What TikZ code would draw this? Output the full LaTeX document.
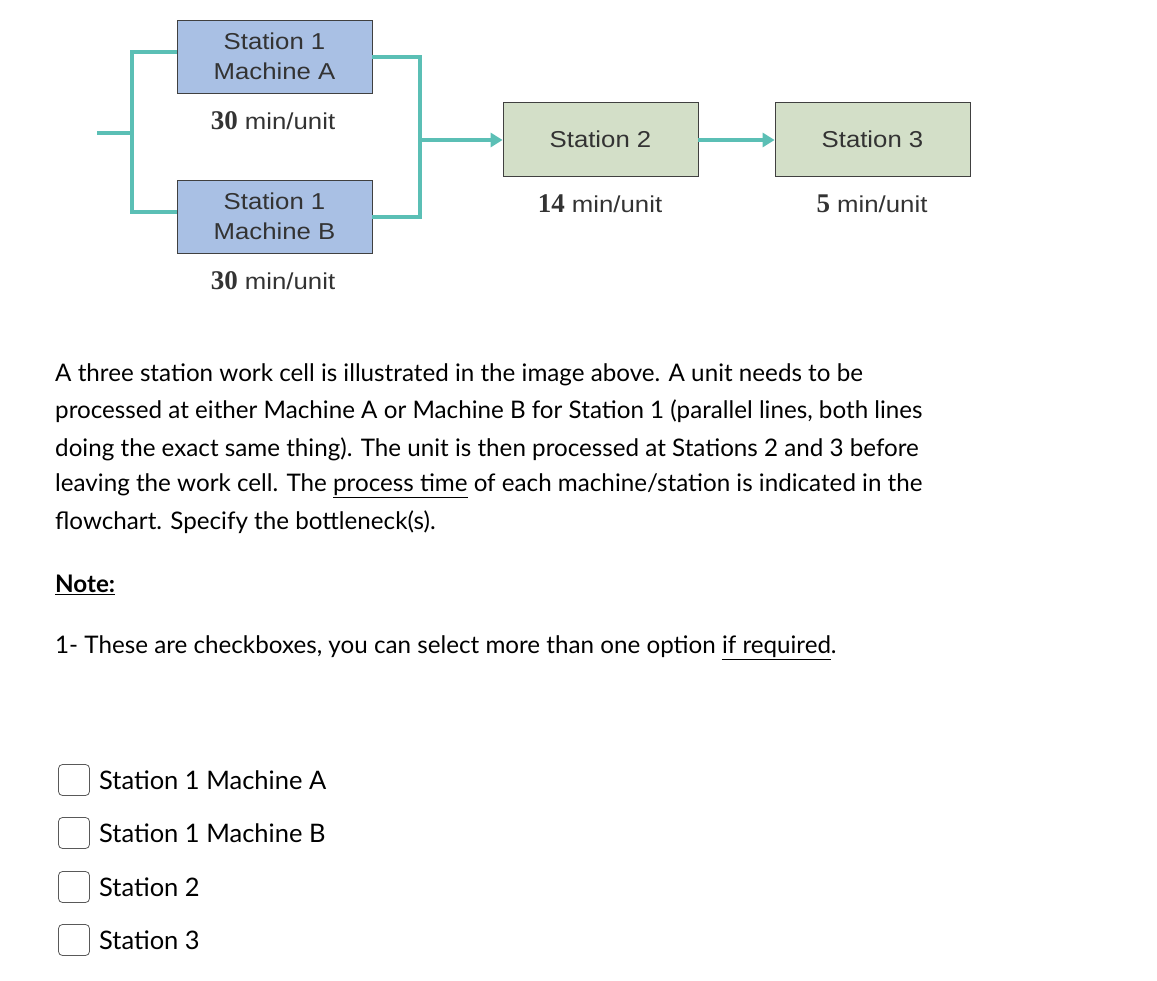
\documentclass[tikz,border=0pt]{standalone}
\usepackage{fontspec}
\setmainfont{Lato}
\newfontfamily\boxfont[FakeStretch=1.12]{Liberation Sans}
\newfontfamily\numfont{Liberation Serif}
\usetikzlibrary{positioning,arrows.meta}
\definecolor{machblue}{HTML}{A9C0E4}
\definecolor{statgreen}{HTML}{D3DFC8}
\definecolor{flowteal}{HTML}{5BBFB5}
\definecolor{boxtext}{HTML}{333333}
\begin{document}
\begin{tikzpicture}[x=1pt,y=-1pt,
	station/.style={
		rectangle,
		draw=black!75,
		thick,
		minimum width=195pt,
		align=center,
		text=boxtext,
		font=\boxfont\fontsize{23}{30}\selectfont,
	},
	rate/.style={
		text=boxtext,
		font=\boxfont\fontsize{23}{28}\selectfont,
	},
	flow/.style={% teal connectors
		draw=flowteal,
		line width=3.5pt,
	},
	para/.style={anchor=west, inner sep=0pt, font=\fontsize{24.2}{29}\selectfont},
	check/.style={rectangle, rounded corners=4pt, draw=black!65, thick, minimum width=31pt, minimum height=31pt, inner sep=0pt},
]
	\useasboundingbox (0,0) rectangle (1157,981);
	% station 1
	\node [station, fill=machblue, minimum height=73pt] (ma) at (274.5,56.5) {Station 1\\Machine A};
	\node [station, fill=machblue, minimum height=73pt] (mb) at (274.5,216.5) {Station 1\\Machine B};
	\node [rate] (ra) at (273,121) {{\numfont\bfseries\fontsize{27}{28}\selectfont 30} min/unit};
	\node [rate] (rb) at (273,281) {{\numfont\bfseries\fontsize{27}{28}\selectfont 30} min/unit};
	% stations 2 and 3
	\node [station, fill=statgreen, minimum height=74pt] (s2) at (600.5,139) {Station 2};
	\node [station, fill=statgreen, minimum height=74pt] (s3) at (872.5,139) {Station 3};
	\node [rate] (r2) at (600,204) {{\numfont\bfseries\fontsize{27}{28}\selectfont 14} min/unit};
	\node [rate] (r3) at (872,204) {{\numfont\bfseries\fontsize{27}{28}\selectfont 5} min/unit};

	\coordinate (in) at (97,133);
	\coordinate (split) at (132,133);
	\coordinate (merge) at (420,140);

	\draw [flow] (in) -- (split);
	\draw [flow] (ma.west |- 0,52) -| (split) |- (mb.west |- 0,212);
	\draw [flow] (ma.east |- 0,57) -| (merge) |- (mb.east |- 0,217);
	\draw [flow, -{Triangle[length=12pt,width=14pt]}] (merge) -- (s2.west |- merge);
	\draw [flow, -{Triangle[length=12pt,width=14pt]}] (s2.east |- merge) -- (s3.west |- merge);

	% question text
	\node [para] (p1) at (55,375) {A three station work cell is illustrated in the image above. A unit needs to be};
	\node [para] (p2) at (55,411) {processed at either Machine A or Machine B for Station 1 (parallel lines, both lines};
	\node [para] (p3) at (55,449) {doing the exact same thing). The unit is then processed at Stations 2 and 3 before};
	\node [para] (p4) at (55,486) {leaving the work cell. The \underline{process time} of each machine/station is indicated in the};
	\node [para] (p5) at (55,522) {flowchart. Specify the bottleneck(s).};
	\node [para] (note) at (55,585) {\underline{\textbf{Note:}}};
	\node [para] (n1) at (55,648) {1- These are checkboxes, you can select more than one option \underline{if required}.};

	% options
	\foreach \i/\txt [count=\k] in {780/Station 1 Machine A,833/Station 1 Machine B,887/Station 2,940/Station 3}{
		\node [check] (c\k) at (74,\i) {};
		\node [para, right=9pt of c\k, font=\fontsize{25.5}{29}\selectfont] (o\k) {\txt};
	}
\end{tikzpicture}
\end{document}
